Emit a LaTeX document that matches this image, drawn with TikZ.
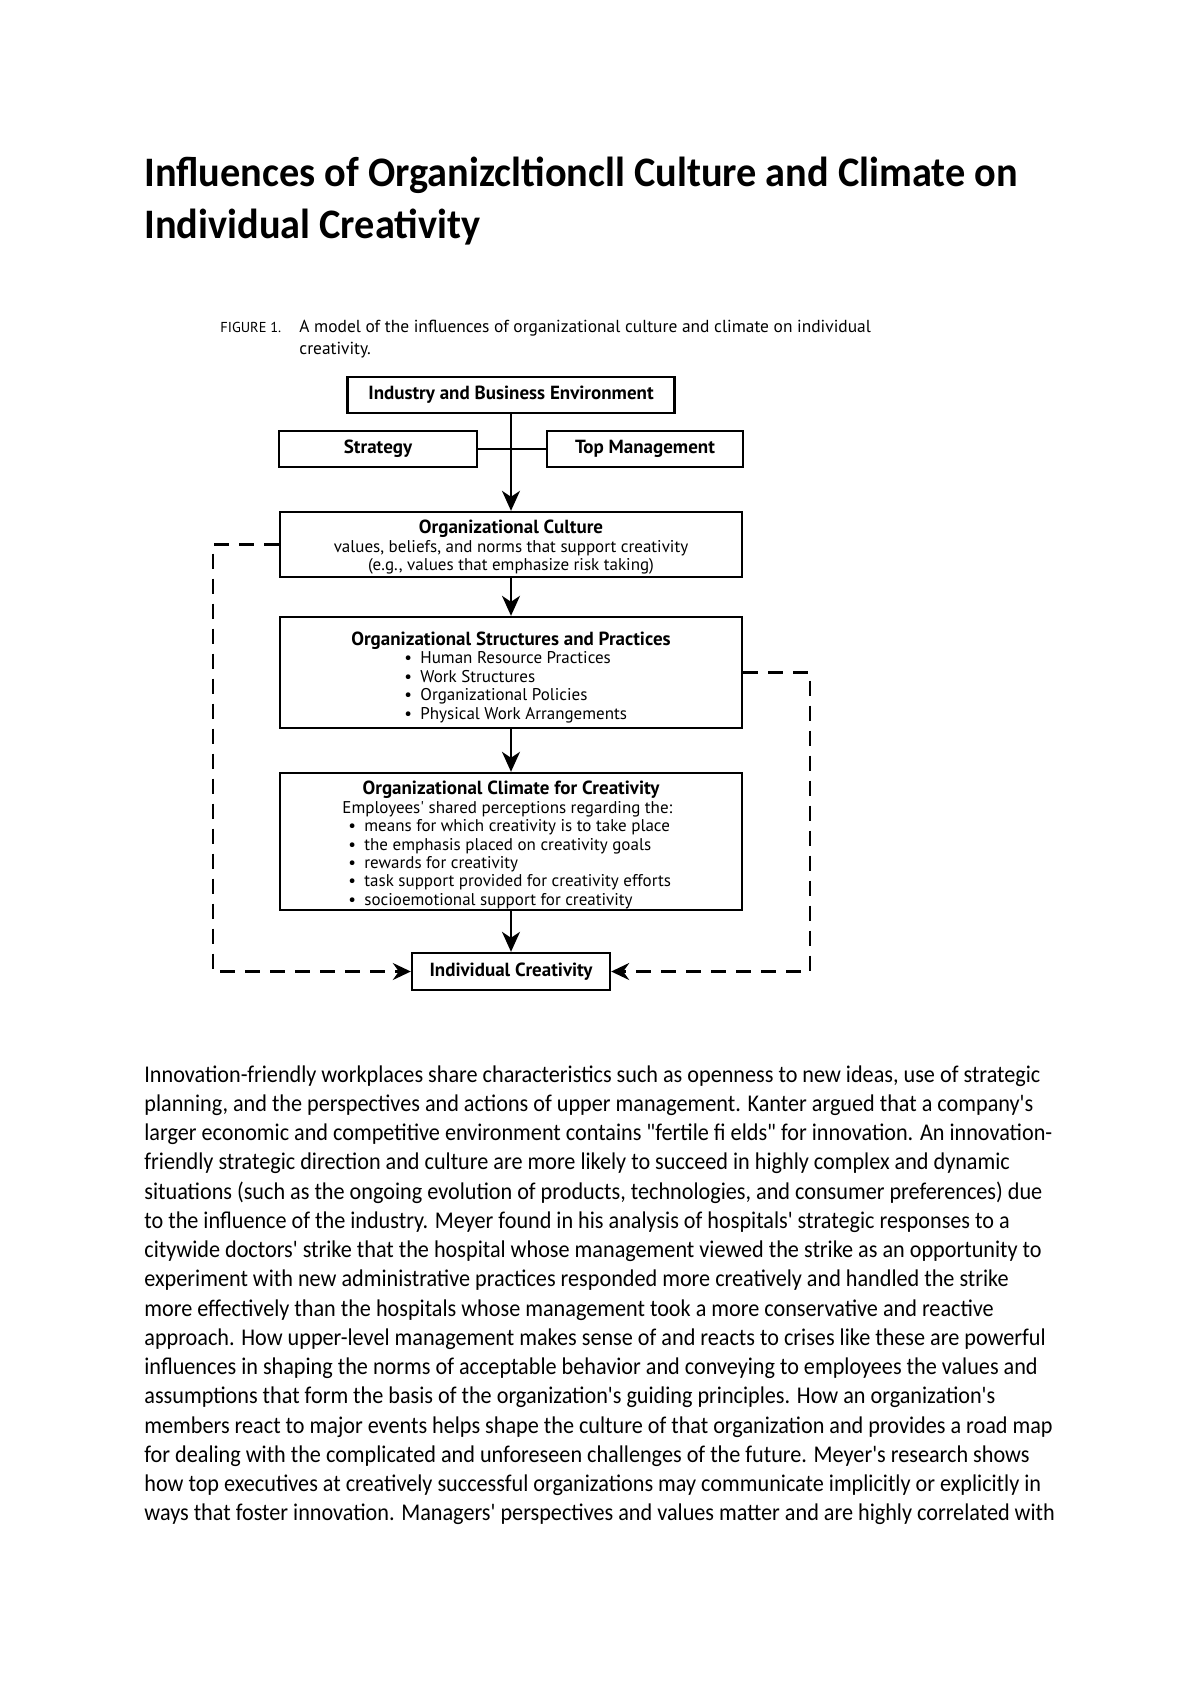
\documentclass[tikz,border=0pt]{standalone}
\usepackage{fontspec}
\setmainfont{Carlito}[Ligatures=TeXOff]
\newfontfamily\parafont{Carlito}[Ligatures=TeXOff, FakeStretch=0.925]
\newfontfamily\titlefont{Carlito}[Ligatures=TeXOff, FakeStretch=0.96]
\newfontfamily\figfont{PT Sans}[Ligatures=TeXOff]
\usetikzlibrary{arrows.meta}
\begin{document}
\begin{tikzpicture}[x=0.5pt,y=-0.5pt,
  boxnode/.style={draw, line width=1.2pt, inner sep=0pt, align=center,
    font=\figfont\bfseries\fontsize{9.5}{11}\selectfont},
  btitle/.style={inner sep=0pt, anchor=mid, font=\figfont\bfseries\fontsize{9.5}{11}\selectfont},
  btext/.style={inner sep=0pt, anchor=mid, font=\figfont\fontsize{8.5}{10}\selectfont},
  bleft/.style={inner sep=0pt, anchor=mid west, font=\figfont\fontsize{8.5}{10}\selectfont},
  ptxt/.style={inner sep=0pt, anchor=base west, font=\parafont\fontsize{12}{14}\selectfont},
  ttl/.style={inner sep=0pt, anchor=base west, font=\titlefont\bfseries\fontsize{21}{25}\selectfont},
  figcap/.style={inner sep=0pt, anchor=base west, font=\figfont\fontsize{8.7}{10}\selectfont},
  arr/.style={line width=1pt, -{Stealth[length=10pt,width=9pt,inset=3pt]}},
  dsh/.style={line width=1.1pt, dash pattern=on 7.5pt off 5pt, -{Stealth[length=9pt,width=8.5pt,inset=3pt]}},
  thinline/.style={line width=1pt}
]
\fill[white] (0,0) rectangle (1200,1698);
\useasboundingbox (0,0) rectangle (1200,1698);

% Title
\node[ttl] (t1) at (144,186) {Influences of Organizcltioncll Culture and Climate on};
\node[ttl] (t2) at (144,238) {Individual Creativity};

% Caption
\node[figcap, font=\figfont\fontsize{7.2}{9}\selectfont] (c0) at (220,332) {FIGURE 1.};
\node[figcap] (c1) at (299,332) {A model of the influences of organizational culture and climate on individual};
\node[figcap] (c2) at (299,354) {creativity.};

% Boxes
\node[boxnode, minimum width=163.5pt, minimum height=18pt] (ind) at (511,395) {Industry and Business Environment};
\node[boxnode, minimum width=99pt, minimum height=18pt] (str) at (378,449) {Strategy};
\node[boxnode, minimum width=98pt, minimum height=18pt] (top) at (645,449) {Top Management};
\node[boxnode, minimum width=231pt, minimum height=32.5pt] (cul) at (511,544.5) {};
\node[boxnode, minimum width=231pt, minimum height=55.5pt] (ops) at (511,672.5) {};
\node[boxnode, minimum width=231pt, minimum height=68.5pt] (cli) at (511,841.5) {};
\node[boxnode, minimum width=99pt, minimum height=18.5pt] (ic) at (511,971.5) {Individual Creativity};

% Culture text
\node[btitle] (cult) at (511,529) {Organizational Culture};
\node[btext] (cul1) at (511,548) {values, beliefs, and norms that support creativity};
\node[btext] (cul2) at (511,566) {(e.g., values that emphasize risk taking)};

% Structures text
\node[btitle] (opst) at (511,641) {Organizational Structures and Practices};
\node[bleft] (ob1) at (404,659) {\textbullet};
\node[bleft] (o1) at (420,659) {Human Resource Practices};
\node[bleft] (ob2) at (404,678) {\textbullet};
\node[bleft] (o2) at (420,678) {Work Structures};
\node[bleft] (ob3) at (404,696) {\textbullet};
\node[bleft] (o3) at (420,696) {Organizational Policies};
\node[bleft] (ob4) at (404,715) {\textbullet};
\node[bleft] (o4) at (420,715) {Physical Work Arrangements};

% Climate text
\node[btitle] (clit) at (511,790) {Organizational Climate for Creativity};
\node[bleft] (cl0) at (342,809) {Employees' shared perceptions regarding the:};
\node[bleft] (cb1) at (348,827) {\textbullet};
\node[bleft] (cl1) at (364,827) {means for which creativity is to take place};
\node[bleft] (cb2) at (348,846) {\textbullet};
\node[bleft] (cl2) at (364,846) {the emphasis placed on creativity goals};
\node[bleft] (cb3) at (348,864) {\textbullet};
\node[bleft] (cl3) at (364,864) {rewards for creativity};
\node[bleft] (cb4) at (348,882) {\textbullet};
\node[bleft] (cl4) at (364,882) {task support provided for creativity efforts};
\node[bleft] (cb5) at (348,901) {\textbullet};
\node[bleft] (cl5) at (364,901) {socioemotional support for creativity};

% Connectors
\draw[thinline] (str.east) -- (top.west);
\draw[arr] (ind.south) -- (cul.north);
\draw[arr] (cul.south) -- (ops.north);
\draw[arr] (ops.south) -- (cli.north);
\draw[arr] (cli.south) -- (ic.north);
\coordinate (L) at (213,971.5);
\coordinate (R) at (810,971.5);
\draw[dsh] (cul.west) -| (L) -- (ic.west);
\draw[dsh] (ops.east) -| (R) -- (ic.east);

% Paragraph
\node[ptxt] (p1) at (144,1082) {Innovation-friendly workplaces share characteristics such as openness to new ideas, use of strategic};
\node[ptxt] (p2) at (144,1111.25) {planning, and the perspectives and actions of upper management. Kanter argued that a company's};
\node[ptxt] (p3) at (144,1140.5) {larger economic and competitive environment contains "fertile fi elds" for innovation. An innovation-};
\node[ptxt] (p4) at (144,1169.75) {friendly strategic direction and culture are more likely to succeed in highly complex and dynamic};
\node[ptxt] (p5) at (144,1199) {situations (such as the ongoing evolution of products, technologies, and consumer preferences) due};
\node[ptxt] (p6) at (144,1228.25) {to the influence of the industry. Meyer found in his analysis of hospitals' strategic responses to a};
\node[ptxt] (p7) at (144,1257.5) {citywide doctors' strike that the hospital whose management viewed the strike as an opportunity to};
\node[ptxt] (p8) at (144,1286.75) {experiment with new administrative practices responded more creatively and handled the strike};
\node[ptxt] (p9) at (144,1316) {more effectively than the hospitals whose management took a more conservative and reactive};
\node[ptxt] (p10) at (144,1345.25) {approach. How upper-level management makes sense of and reacts to crises like these are powerful};
\node[ptxt] (p11) at (144,1374.5) {influences in shaping the norms of acceptable behavior and conveying to employees the values and};
\node[ptxt] (p12) at (144,1403.75) {assumptions that form the basis of the organization's guiding principles. How an organization's};
\node[ptxt] (p13) at (144,1433) {members react to major events helps shape the culture of that organization and provides a road map};
\node[ptxt] (p14) at (144,1462.25) {for dealing with the complicated and unforeseen challenges of the future. Meyer's research shows};
\node[ptxt] (p15) at (144,1491.5) {how top executives at creatively successful organizations may communicate implicitly or explicitly in};
\node[ptxt] (p16) at (144,1520.75) {ways that foster innovation. Managers' perspectives and values matter and are highly correlated with};
\end{tikzpicture}
\end{document}
